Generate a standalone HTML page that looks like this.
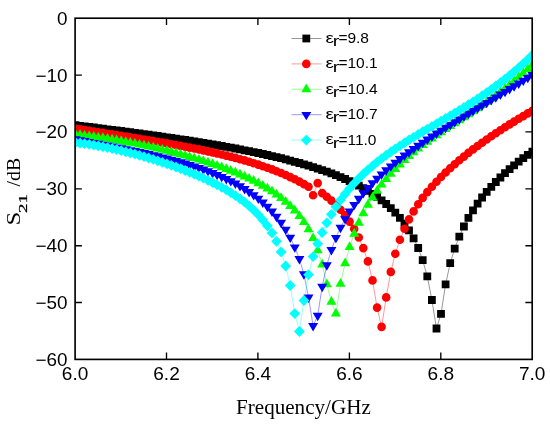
<!DOCTYPE html>
<html lang="en"><head><meta charset="utf-8"><title>S21 vs Frequency</title>
<style>
html,body{margin:0;padding:0;background:#fff;}
body{width:550px;height:425px;overflow:hidden;}
svg{display:block;}
</style></head>
<body>
<svg width="550" height="425" viewBox="0 0 550 425">
<rect width="550" height="425" fill="#fff"/>
<clipPath id="c"><rect x="75.1" y="18.2" width="457.1" height="341.2"/></clipPath>
<path d="M166.5 359.4v-6.8M166.5 18.2v6.8M257.9 359.4v-6.8M257.9 18.2v6.8M349.4 359.4v-6.8M349.4 18.2v6.8M440.8 359.4v-6.8M440.8 18.2v6.8M75.1 75.1h6.8M532.2 75.1h-6.8M75.1 131.9h6.8M532.2 131.9h-6.8M75.1 188.8h6.8M532.2 188.8h-6.8M75.1 245.7h6.8M532.2 245.7h-6.8M75.1 302.5h6.8M532.2 302.5h-6.8" stroke="#000" stroke-width="1.35" fill="none"/>
<g clip-path="url(#c)">
<path d="M75.5 125.2L80.1 125.8L84.6 126.4L89.2 126.9L93.8 127.5L98.3 128.1L102.9 128.7L107.5 129.3L112.1 129.8L116.6 130.4L121.2 131L125.8 131.6L130.3 132.2L134.9 132.9L139.5 133.5L144 134.1L148.6 134.7L153.2 135.4L157.7 136L162.3 136.7L166.9 137.3L171.4 138L176 138.7L180.6 139.3L185.2 140L189.7 140.7L194.3 141.5L198.9 142.2L203.4 142.9L208 143.7L212.6 144.4L217.1 145.2L221.7 146L226.3 146.8L230.8 147.7L235.4 148.5L240 149.4L244.6 150.3L249.1 151.2L253.7 152.1L258.3 153L262.8 154L267.4 155L272 156.1L276.5 157.1L281.1 158.2L285.7 159.4L290.2 160.6L294.8 161.8L299.4 163L303.9 164.3L308.5 165.7L313.1 167.1L317.7 168.6L322.2 170.1L326.8 171.7L331.4 173.4L335.9 175.2L340.5 177.1L345.1 179L349.6 181.1L354.2 183.3L358.8 185.7L363.3 188.2L367.9 190.9L372.5 193.8L377.1 196.9L381.6 200.3L386.2 204L390.8 208.1L395.3 212.7L399.9 217.8L404.5 223.6L409 230.4L413.6 238.4L418.2 248L422.7 260.2L427.3 276.4L431.9 300L436.5 328.5L441 313.8L445.6 284.4L450.2 263.1L454.7 248.7L459.3 236.6L463.9 226.5L468.4 217.9L473 210.4L477.6 203.6L482.1 197.5L486.7 191.9L491.3 186.8L495.8 182L500.4 177.5L505 173.2L509.6 169.2L514.1 165.4L518.7 161.7L523.3 158.2L527.8 154.9L532.4 151.7" fill="none" stroke="#000000" stroke-width="0.55" stroke-opacity="0.75"/>
<path d="M71.6 121.3h7.8v7.8h-7.8zM76.2 121.9h7.8v7.8h-7.8zM80.7 122.5h7.8v7.8h-7.8zM85.3 123h7.8v7.8h-7.8zM89.9 123.6h7.8v7.8h-7.8zM94.4 124.2h7.8v7.8h-7.8zM99 124.8h7.8v7.8h-7.8zM103.6 125.4h7.8v7.8h-7.8zM108.2 125.9h7.8v7.8h-7.8zM112.7 126.5h7.8v7.8h-7.8zM117.3 127.1h7.8v7.8h-7.8zM121.9 127.7h7.8v7.8h-7.8zM126.4 128.3h7.8v7.8h-7.8zM131 129h7.8v7.8h-7.8zM135.6 129.6h7.8v7.8h-7.8zM140.1 130.2h7.8v7.8h-7.8zM144.7 130.8h7.8v7.8h-7.8zM149.3 131.5h7.8v7.8h-7.8zM153.8 132.1h7.8v7.8h-7.8zM158.4 132.8h7.8v7.8h-7.8zM163 133.4h7.8v7.8h-7.8zM167.5 134.1h7.8v7.8h-7.8zM172.1 134.8h7.8v7.8h-7.8zM176.7 135.4h7.8v7.8h-7.8zM181.3 136.1h7.8v7.8h-7.8zM185.8 136.8h7.8v7.8h-7.8zM190.4 137.6h7.8v7.8h-7.8zM195 138.3h7.8v7.8h-7.8zM199.5 139h7.8v7.8h-7.8zM204.1 139.8h7.8v7.8h-7.8zM208.7 140.5h7.8v7.8h-7.8zM213.2 141.3h7.8v7.8h-7.8zM217.8 142.1h7.8v7.8h-7.8zM222.4 142.9h7.8v7.8h-7.8zM226.9 143.8h7.8v7.8h-7.8zM231.5 144.6h7.8v7.8h-7.8zM236.1 145.5h7.8v7.8h-7.8zM240.7 146.4h7.8v7.8h-7.8zM245.2 147.3h7.8v7.8h-7.8zM249.8 148.2h7.8v7.8h-7.8zM254.4 149.1h7.8v7.8h-7.8zM258.9 150.1h7.8v7.8h-7.8zM263.5 151.1h7.8v7.8h-7.8zM268.1 152.2h7.8v7.8h-7.8zM272.6 153.2h7.8v7.8h-7.8zM277.2 154.3h7.8v7.8h-7.8zM281.8 155.5h7.8v7.8h-7.8zM286.3 156.7h7.8v7.8h-7.8zM290.9 157.9h7.8v7.8h-7.8zM295.5 159.1h7.8v7.8h-7.8zM300.1 160.4h7.8v7.8h-7.8zM304.6 161.8h7.8v7.8h-7.8zM309.2 163.2h7.8v7.8h-7.8zM313.8 164.7h7.8v7.8h-7.8zM318.3 166.2h7.8v7.8h-7.8zM322.9 167.8h7.8v7.8h-7.8zM327.5 169.5h7.8v7.8h-7.8zM332 171.3h7.8v7.8h-7.8zM336.6 173.2h7.8v7.8h-7.8zM341.2 175.1h7.8v7.8h-7.8zM345.7 177.2h7.8v7.8h-7.8zM350.3 179.4h7.8v7.8h-7.8zM354.9 181.8h7.8v7.8h-7.8zM359.4 184.3h7.8v7.8h-7.8zM364 187h7.8v7.8h-7.8zM368.6 189.9h7.8v7.8h-7.8zM373.2 193h7.8v7.8h-7.8zM377.7 196.4h7.8v7.8h-7.8zM382.3 200.1h7.8v7.8h-7.8zM386.9 204.2h7.8v7.8h-7.8zM391.4 208.8h7.8v7.8h-7.8zM396 213.9h7.8v7.8h-7.8zM400.6 219.7h7.8v7.8h-7.8zM405.1 226.5h7.8v7.8h-7.8zM409.7 234.5h7.8v7.8h-7.8zM414.3 244.1h7.8v7.8h-7.8zM418.8 256.3h7.8v7.8h-7.8zM423.4 272.5h7.8v7.8h-7.8zM428 296.1h7.8v7.8h-7.8zM432.6 324.6h7.8v7.8h-7.8zM437.1 309.9h7.8v7.8h-7.8zM441.7 280.5h7.8v7.8h-7.8zM446.3 259.2h7.8v7.8h-7.8zM450.8 244.8h7.8v7.8h-7.8zM455.4 232.7h7.8v7.8h-7.8zM460 222.6h7.8v7.8h-7.8zM464.5 214h7.8v7.8h-7.8zM469.1 206.5h7.8v7.8h-7.8zM473.7 199.7h7.8v7.8h-7.8zM478.2 193.6h7.8v7.8h-7.8zM482.8 188h7.8v7.8h-7.8zM487.4 182.9h7.8v7.8h-7.8zM491.9 178.1h7.8v7.8h-7.8zM496.5 173.6h7.8v7.8h-7.8zM501.1 169.3h7.8v7.8h-7.8zM505.7 165.3h7.8v7.8h-7.8zM510.2 161.5h7.8v7.8h-7.8zM514.8 157.8h7.8v7.8h-7.8zM519.4 154.3h7.8v7.8h-7.8zM523.9 151h7.8v7.8h-7.8zM528.5 147.8h7.8v7.8h-7.8z" fill="#000000"/>
<path d="M75.5 128.6L80.1 129.3L84.6 130L89.2 130.8L93.8 131.5L98.3 132.2L102.9 132.9L107.5 133.7L112.1 134.4L116.6 135.1L121.2 135.8L125.8 136.5L130.3 137.3L134.9 138L139.5 138.7L144 139.5L148.6 140.2L153.2 141L157.7 141.8L162.3 142.6L166.9 143.4L171.4 144.2L176 145L180.6 145.9L185.2 146.7L189.7 147.6L194.3 148.5L198.9 149.4L203.4 150.4L208 151.4L212.6 152.4L217.1 153.4L221.7 154.5L226.3 155.6L230.8 156.7L235.4 157.9L240 159.2L244.6 160.4L249.1 161.8L253.7 163.2L258.3 164.6L262.8 166.2L267.4 167.8L272 169.4L276.5 171.2L281.1 173L285.7 175L290.2 177.1L294.8 179.3L299.4 181.6L303.9 184.1L308.5 186.8L313.1 195.3L317.7 183.1L322.2 193.1L326.8 196.7L331.4 200.6L335.9 205L340.5 209.8L345.1 215.3L349.6 221.6L354.2 228.8L358.8 237.5L363.3 248.1L367.9 261.4L372.5 280.4L377.1 307.6L381.6 326.9L386.2 297.4L390.8 271.9L395.3 253.7L399.9 239.7L404.5 228.7L409 219.4L413.6 211.4L418.2 204.3L422.7 197.9L427.3 192.1L431.9 186.7L436.5 181.7L441 177L445.6 172.5L450.2 168.2L454.7 164.2L459.3 160.3L463.9 156.6L468.4 152.9L473 149.4L477.6 146L482.1 142.7L486.7 139.5L491.3 136.3L495.8 133.3L500.4 130.3L505 127.3L509.6 124.4L514.1 121.6L518.7 118.8L523.3 116.1L527.8 113.4L532.4 110.7" fill="none" stroke="#ff0000" stroke-width="0.55" stroke-opacity="0.75"/>
<path d="M71.2 128.6a4.3 4.3 0 1 0 8.6 0a4.3 4.3 0 1 0 -8.6 0zM75.8 129.3a4.3 4.3 0 1 0 8.6 0a4.3 4.3 0 1 0 -8.6 0zM80.3 130a4.3 4.3 0 1 0 8.6 0a4.3 4.3 0 1 0 -8.6 0zM84.9 130.8a4.3 4.3 0 1 0 8.6 0a4.3 4.3 0 1 0 -8.6 0zM89.5 131.5a4.3 4.3 0 1 0 8.6 0a4.3 4.3 0 1 0 -8.6 0zM94 132.2a4.3 4.3 0 1 0 8.6 0a4.3 4.3 0 1 0 -8.6 0zM98.6 132.9a4.3 4.3 0 1 0 8.6 0a4.3 4.3 0 1 0 -8.6 0zM103.2 133.7a4.3 4.3 0 1 0 8.6 0a4.3 4.3 0 1 0 -8.6 0zM107.8 134.4a4.3 4.3 0 1 0 8.6 0a4.3 4.3 0 1 0 -8.6 0zM112.3 135.1a4.3 4.3 0 1 0 8.6 0a4.3 4.3 0 1 0 -8.6 0zM116.9 135.8a4.3 4.3 0 1 0 8.6 0a4.3 4.3 0 1 0 -8.6 0zM121.5 136.5a4.3 4.3 0 1 0 8.6 0a4.3 4.3 0 1 0 -8.6 0zM126 137.3a4.3 4.3 0 1 0 8.6 0a4.3 4.3 0 1 0 -8.6 0zM130.6 138a4.3 4.3 0 1 0 8.6 0a4.3 4.3 0 1 0 -8.6 0zM135.2 138.7a4.3 4.3 0 1 0 8.6 0a4.3 4.3 0 1 0 -8.6 0zM139.7 139.5a4.3 4.3 0 1 0 8.6 0a4.3 4.3 0 1 0 -8.6 0zM144.3 140.2a4.3 4.3 0 1 0 8.6 0a4.3 4.3 0 1 0 -8.6 0zM148.9 141a4.3 4.3 0 1 0 8.6 0a4.3 4.3 0 1 0 -8.6 0zM153.4 141.8a4.3 4.3 0 1 0 8.6 0a4.3 4.3 0 1 0 -8.6 0zM158 142.6a4.3 4.3 0 1 0 8.6 0a4.3 4.3 0 1 0 -8.6 0zM162.6 143.4a4.3 4.3 0 1 0 8.6 0a4.3 4.3 0 1 0 -8.6 0zM167.1 144.2a4.3 4.3 0 1 0 8.6 0a4.3 4.3 0 1 0 -8.6 0zM171.7 145a4.3 4.3 0 1 0 8.6 0a4.3 4.3 0 1 0 -8.6 0zM176.3 145.9a4.3 4.3 0 1 0 8.6 0a4.3 4.3 0 1 0 -8.6 0zM180.9 146.7a4.3 4.3 0 1 0 8.6 0a4.3 4.3 0 1 0 -8.6 0zM185.4 147.6a4.3 4.3 0 1 0 8.6 0a4.3 4.3 0 1 0 -8.6 0zM190 148.5a4.3 4.3 0 1 0 8.6 0a4.3 4.3 0 1 0 -8.6 0zM194.6 149.4a4.3 4.3 0 1 0 8.6 0a4.3 4.3 0 1 0 -8.6 0zM199.1 150.4a4.3 4.3 0 1 0 8.6 0a4.3 4.3 0 1 0 -8.6 0zM203.7 151.4a4.3 4.3 0 1 0 8.6 0a4.3 4.3 0 1 0 -8.6 0zM208.3 152.4a4.3 4.3 0 1 0 8.6 0a4.3 4.3 0 1 0 -8.6 0zM212.8 153.4a4.3 4.3 0 1 0 8.6 0a4.3 4.3 0 1 0 -8.6 0zM217.4 154.5a4.3 4.3 0 1 0 8.6 0a4.3 4.3 0 1 0 -8.6 0zM222 155.6a4.3 4.3 0 1 0 8.6 0a4.3 4.3 0 1 0 -8.6 0zM226.5 156.7a4.3 4.3 0 1 0 8.6 0a4.3 4.3 0 1 0 -8.6 0zM231.1 157.9a4.3 4.3 0 1 0 8.6 0a4.3 4.3 0 1 0 -8.6 0zM235.7 159.2a4.3 4.3 0 1 0 8.6 0a4.3 4.3 0 1 0 -8.6 0zM240.3 160.4a4.3 4.3 0 1 0 8.6 0a4.3 4.3 0 1 0 -8.6 0zM244.8 161.8a4.3 4.3 0 1 0 8.6 0a4.3 4.3 0 1 0 -8.6 0zM249.4 163.2a4.3 4.3 0 1 0 8.6 0a4.3 4.3 0 1 0 -8.6 0zM254 164.6a4.3 4.3 0 1 0 8.6 0a4.3 4.3 0 1 0 -8.6 0zM258.5 166.2a4.3 4.3 0 1 0 8.6 0a4.3 4.3 0 1 0 -8.6 0zM263.1 167.8a4.3 4.3 0 1 0 8.6 0a4.3 4.3 0 1 0 -8.6 0zM267.7 169.4a4.3 4.3 0 1 0 8.6 0a4.3 4.3 0 1 0 -8.6 0zM272.2 171.2a4.3 4.3 0 1 0 8.6 0a4.3 4.3 0 1 0 -8.6 0zM276.8 173a4.3 4.3 0 1 0 8.6 0a4.3 4.3 0 1 0 -8.6 0zM281.4 175a4.3 4.3 0 1 0 8.6 0a4.3 4.3 0 1 0 -8.6 0zM285.9 177.1a4.3 4.3 0 1 0 8.6 0a4.3 4.3 0 1 0 -8.6 0zM290.5 179.3a4.3 4.3 0 1 0 8.6 0a4.3 4.3 0 1 0 -8.6 0zM295.1 181.6a4.3 4.3 0 1 0 8.6 0a4.3 4.3 0 1 0 -8.6 0zM299.6 184.1a4.3 4.3 0 1 0 8.6 0a4.3 4.3 0 1 0 -8.6 0zM304.2 186.8a4.3 4.3 0 1 0 8.6 0a4.3 4.3 0 1 0 -8.6 0zM308.8 195.3a4.3 4.3 0 1 0 8.6 0a4.3 4.3 0 1 0 -8.6 0zM313.4 183.1a4.3 4.3 0 1 0 8.6 0a4.3 4.3 0 1 0 -8.6 0zM317.9 193.1a4.3 4.3 0 1 0 8.6 0a4.3 4.3 0 1 0 -8.6 0zM322.5 196.7a4.3 4.3 0 1 0 8.6 0a4.3 4.3 0 1 0 -8.6 0zM327.1 200.6a4.3 4.3 0 1 0 8.6 0a4.3 4.3 0 1 0 -8.6 0zM331.6 205a4.3 4.3 0 1 0 8.6 0a4.3 4.3 0 1 0 -8.6 0zM336.2 209.8a4.3 4.3 0 1 0 8.6 0a4.3 4.3 0 1 0 -8.6 0zM340.8 215.3a4.3 4.3 0 1 0 8.6 0a4.3 4.3 0 1 0 -8.6 0zM345.3 221.6a4.3 4.3 0 1 0 8.6 0a4.3 4.3 0 1 0 -8.6 0zM349.9 228.8a4.3 4.3 0 1 0 8.6 0a4.3 4.3 0 1 0 -8.6 0zM354.5 237.5a4.3 4.3 0 1 0 8.6 0a4.3 4.3 0 1 0 -8.6 0zM359 248.1a4.3 4.3 0 1 0 8.6 0a4.3 4.3 0 1 0 -8.6 0zM363.6 261.4a4.3 4.3 0 1 0 8.6 0a4.3 4.3 0 1 0 -8.6 0zM368.2 280.4a4.3 4.3 0 1 0 8.6 0a4.3 4.3 0 1 0 -8.6 0zM372.8 307.6a4.3 4.3 0 1 0 8.6 0a4.3 4.3 0 1 0 -8.6 0zM377.3 326.9a4.3 4.3 0 1 0 8.6 0a4.3 4.3 0 1 0 -8.6 0zM381.9 297.4a4.3 4.3 0 1 0 8.6 0a4.3 4.3 0 1 0 -8.6 0zM386.5 271.9a4.3 4.3 0 1 0 8.6 0a4.3 4.3 0 1 0 -8.6 0zM391 253.7a4.3 4.3 0 1 0 8.6 0a4.3 4.3 0 1 0 -8.6 0zM395.6 239.7a4.3 4.3 0 1 0 8.6 0a4.3 4.3 0 1 0 -8.6 0zM400.2 228.7a4.3 4.3 0 1 0 8.6 0a4.3 4.3 0 1 0 -8.6 0zM404.7 219.4a4.3 4.3 0 1 0 8.6 0a4.3 4.3 0 1 0 -8.6 0zM409.3 211.4a4.3 4.3 0 1 0 8.6 0a4.3 4.3 0 1 0 -8.6 0zM413.9 204.3a4.3 4.3 0 1 0 8.6 0a4.3 4.3 0 1 0 -8.6 0zM418.4 197.9a4.3 4.3 0 1 0 8.6 0a4.3 4.3 0 1 0 -8.6 0zM423 192.1a4.3 4.3 0 1 0 8.6 0a4.3 4.3 0 1 0 -8.6 0zM427.6 186.7a4.3 4.3 0 1 0 8.6 0a4.3 4.3 0 1 0 -8.6 0zM432.2 181.7a4.3 4.3 0 1 0 8.6 0a4.3 4.3 0 1 0 -8.6 0zM436.7 177a4.3 4.3 0 1 0 8.6 0a4.3 4.3 0 1 0 -8.6 0zM441.3 172.5a4.3 4.3 0 1 0 8.6 0a4.3 4.3 0 1 0 -8.6 0zM445.9 168.2a4.3 4.3 0 1 0 8.6 0a4.3 4.3 0 1 0 -8.6 0zM450.4 164.2a4.3 4.3 0 1 0 8.6 0a4.3 4.3 0 1 0 -8.6 0zM455 160.3a4.3 4.3 0 1 0 8.6 0a4.3 4.3 0 1 0 -8.6 0zM459.6 156.6a4.3 4.3 0 1 0 8.6 0a4.3 4.3 0 1 0 -8.6 0zM464.1 152.9a4.3 4.3 0 1 0 8.6 0a4.3 4.3 0 1 0 -8.6 0zM468.7 149.4a4.3 4.3 0 1 0 8.6 0a4.3 4.3 0 1 0 -8.6 0zM473.3 146a4.3 4.3 0 1 0 8.6 0a4.3 4.3 0 1 0 -8.6 0zM477.8 142.7a4.3 4.3 0 1 0 8.6 0a4.3 4.3 0 1 0 -8.6 0zM482.4 139.5a4.3 4.3 0 1 0 8.6 0a4.3 4.3 0 1 0 -8.6 0zM487 136.3a4.3 4.3 0 1 0 8.6 0a4.3 4.3 0 1 0 -8.6 0zM491.5 133.3a4.3 4.3 0 1 0 8.6 0a4.3 4.3 0 1 0 -8.6 0zM496.1 130.3a4.3 4.3 0 1 0 8.6 0a4.3 4.3 0 1 0 -8.6 0zM500.7 127.3a4.3 4.3 0 1 0 8.6 0a4.3 4.3 0 1 0 -8.6 0zM505.3 124.4a4.3 4.3 0 1 0 8.6 0a4.3 4.3 0 1 0 -8.6 0zM509.8 121.6a4.3 4.3 0 1 0 8.6 0a4.3 4.3 0 1 0 -8.6 0zM514.4 118.8a4.3 4.3 0 1 0 8.6 0a4.3 4.3 0 1 0 -8.6 0zM519 116.1a4.3 4.3 0 1 0 8.6 0a4.3 4.3 0 1 0 -8.6 0zM523.5 113.4a4.3 4.3 0 1 0 8.6 0a4.3 4.3 0 1 0 -8.6 0zM528.1 110.7a4.3 4.3 0 1 0 8.6 0a4.3 4.3 0 1 0 -8.6 0z" fill="#ff0000"/>
<path d="M75.5 134.6L80.1 135.1L84.6 135.7L89.2 136.2L93.8 136.8L98.3 137.5L102.9 138.1L107.5 138.8L112.1 139.6L116.6 140.3L121.2 141.1L125.8 142L130.3 142.8L134.9 143.7L139.5 144.7L144 145.6L148.6 146.6L153.2 147.6L157.7 148.7L162.3 149.8L166.9 150.9L171.4 152.1L176 153.2L180.6 154.5L185.2 155.7L189.7 157L194.3 158.4L198.9 159.7L203.4 161.1L208 162.6L212.6 164.1L217.1 165.7L221.7 167.3L226.3 169L230.8 170.8L235.4 172.6L240 174.5L244.6 176.6L249.1 178.7L253.7 180.9L258.3 183.3L262.8 185.8L267.4 188.5L272 191.4L276.5 194.6L281.1 198L285.7 201.8L290.2 206L294.8 210.6L299.4 216L303.9 222.1L308.5 229.4L313.1 238.2L317.7 250.3L322.2 264.5L326.8 284.4L331.4 301.9L335.9 313.6L340.5 283.8L345.1 263.3L349.6 247L354.2 233.8L358.8 222.8L363.3 213.3L367.9 204.9L372.5 197.5L377.1 190.8L381.6 184.7L386.2 179L390.8 173.8L395.3 169L399.9 164.5L404.5 160.2L409 156.2L413.6 152.4L418.2 148.7L422.7 145.2L427.3 141.9L431.9 138.6L436.5 135.4L441 132.3L445.6 129.2L450.2 126.2L454.7 123.3L459.3 120.3L463.9 117.3L468.4 114.3L473 111.3L477.6 108.3L482.1 105.2L486.7 102L491.3 98.8L495.8 95.5L500.4 92.1L505 88.6L509.6 85L514.1 81.3L518.7 77.4L523.3 73.4L527.8 69.2L532.4 64.9" fill="none" stroke="#00ff00" stroke-width="0.55" stroke-opacity="0.75"/>
<path d="M75.5 128.8L80.5 137.5L70.5 137.5zM80.1 129.3L85.1 138L75.1 138zM84.6 129.9L89.6 138.6L79.6 138.6zM89.2 130.4L94.2 139.1L84.2 139.1zM93.8 131L98.8 139.7L88.8 139.7zM98.3 131.7L103.3 140.4L93.3 140.4zM102.9 132.3L107.9 141L97.9 141zM107.5 133L112.5 141.7L102.5 141.7zM112.1 133.8L117.1 142.5L107.1 142.5zM116.6 134.5L121.6 143.2L111.6 143.2zM121.2 135.3L126.2 144L116.2 144zM125.8 136.2L130.8 144.9L120.8 144.9zM130.3 137L135.3 145.7L125.3 145.7zM134.9 137.9L139.9 146.6L129.9 146.6zM139.5 138.9L144.5 147.6L134.5 147.6zM144 139.8L149 148.5L139 148.5zM148.6 140.8L153.6 149.5L143.6 149.5zM153.2 141.8L158.2 150.5L148.2 150.5zM157.7 142.9L162.7 151.6L152.7 151.6zM162.3 144L167.3 152.7L157.3 152.7zM166.9 145.1L171.9 153.8L161.9 153.8zM171.4 146.3L176.4 155L166.4 155zM176 147.4L181 156.1L171 156.1zM180.6 148.7L185.6 157.4L175.6 157.4zM185.2 149.9L190.2 158.6L180.2 158.6zM189.7 151.2L194.7 159.9L184.7 159.9zM194.3 152.6L199.3 161.3L189.3 161.3zM198.9 153.9L203.9 162.6L193.9 162.6zM203.4 155.3L208.4 164L198.4 164zM208 156.8L213 165.5L203 165.5zM212.6 158.3L217.6 167L207.6 167zM217.1 159.9L222.1 168.6L212.1 168.6zM221.7 161.5L226.7 170.2L216.7 170.2zM226.3 163.2L231.3 171.9L221.3 171.9zM230.8 165L235.8 173.7L225.8 173.7zM235.4 166.8L240.4 175.5L230.4 175.5zM240 168.7L245 177.4L235 177.4zM244.6 170.8L249.6 179.5L239.6 179.5zM249.1 172.9L254.1 181.6L244.1 181.6zM253.7 175.1L258.7 183.8L248.7 183.8zM258.3 177.5L263.3 186.2L253.3 186.2zM262.8 180L267.8 188.7L257.8 188.7zM267.4 182.7L272.4 191.4L262.4 191.4zM272 185.6L277 194.3L267 194.3zM276.5 188.8L281.5 197.5L271.5 197.5zM281.1 192.2L286.1 200.9L276.1 200.9zM285.7 196L290.7 204.7L280.7 204.7zM290.2 200.2L295.2 208.9L285.2 208.9zM294.8 204.8L299.8 213.5L289.8 213.5zM299.4 210.2L304.4 218.9L294.4 218.9zM303.9 216.3L308.9 225L298.9 225zM308.5 223.6L313.5 232.3L303.5 232.3zM313.1 232.4L318.1 241.1L308.1 241.1zM317.7 244.5L322.7 253.2L312.7 253.2zM322.2 258.7L327.2 267.4L317.2 267.4zM326.8 278.6L331.8 287.3L321.8 287.3zM331.4 296.1L336.4 304.8L326.4 304.8zM335.9 307.8L340.9 316.5L330.9 316.5zM340.5 278L345.5 286.7L335.5 286.7zM345.1 257.5L350.1 266.2L340.1 266.2zM349.6 241.2L354.6 249.9L344.6 249.9zM354.2 228L359.2 236.7L349.2 236.7zM358.8 217L363.8 225.7L353.8 225.7zM363.3 207.5L368.3 216.2L358.3 216.2zM367.9 199.1L372.9 207.8L362.9 207.8zM372.5 191.7L377.5 200.4L367.5 200.4zM377.1 185L382.1 193.7L372.1 193.7zM381.6 178.9L386.6 187.6L376.6 187.6zM386.2 173.2L391.2 181.9L381.2 181.9zM390.8 168L395.8 176.7L385.8 176.7zM395.3 163.2L400.3 171.9L390.3 171.9zM399.9 158.7L404.9 167.4L394.9 167.4zM404.5 154.4L409.5 163.1L399.5 163.1zM409 150.4L414 159.1L404 159.1zM413.6 146.6L418.6 155.3L408.6 155.3zM418.2 142.9L423.2 151.6L413.2 151.6zM422.7 139.4L427.7 148.1L417.7 148.1zM427.3 136.1L432.3 144.8L422.3 144.8zM431.9 132.8L436.9 141.5L426.9 141.5zM436.5 129.6L441.5 138.3L431.5 138.3zM441 126.5L446 135.2L436 135.2zM445.6 123.4L450.6 132.1L440.6 132.1zM450.2 120.4L455.2 129.1L445.2 129.1zM454.7 117.5L459.7 126.2L449.7 126.2zM459.3 114.5L464.3 123.2L454.3 123.2zM463.9 111.5L468.9 120.2L458.9 120.2zM468.4 108.5L473.4 117.2L463.4 117.2zM473 105.5L478 114.2L468 114.2zM477.6 102.5L482.6 111.2L472.6 111.2zM482.1 99.4L487.1 108.1L477.1 108.1zM486.7 96.2L491.7 104.9L481.7 104.9zM491.3 93L496.3 101.7L486.3 101.7zM495.8 89.7L500.8 98.4L490.8 98.4zM500.4 86.3L505.4 95L495.4 95zM505 82.8L510 91.5L500 91.5zM509.6 79.2L514.6 87.9L504.6 87.9zM514.1 75.5L519.1 84.2L509.1 84.2zM518.7 71.6L523.7 80.3L513.7 80.3zM523.3 67.6L528.3 76.3L518.3 76.3zM527.8 63.4L532.8 72.1L522.8 72.1zM532.4 59.1L537.4 67.8L527.4 67.8z" fill="#00ff00"/>
<path d="M75.5 139.1L80.1 140L84.6 140.9L89.2 141.8L93.8 142.7L98.3 143.6L102.9 144.5L107.5 145.4L112.1 146.3L116.6 147.2L121.2 148.1L125.8 149L130.3 150L134.9 150.9L139.5 151.9L144 152.9L148.6 153.9L153.2 155L157.7 156.1L162.3 157.2L166.9 158.3L171.4 159.5L176 160.7L180.6 162L185.2 163.3L189.7 164.7L194.3 166.2L198.9 167.7L203.4 169.3L208 171L212.6 172.8L217.1 174.7L221.7 176.7L226.3 178.8L230.8 181L235.4 183.4L240 186L244.6 188.8L249.1 191.8L253.7 195L258.3 198.5L262.8 202.4L267.4 206.6L272 211.3L276.5 216.6L281.1 222.6L285.7 229.5L290.2 237.5L294.8 247.2L299.4 258.8L303.9 274.1L308.5 297.4L313.1 325.8L317.7 315.6L322.2 286.6L326.8 265.1L331.4 249.9L335.9 237.7L340.5 227.6L345.1 219L349.6 211.4L354.2 204.7L358.8 198.6L363.3 193L367.9 187.8L372.5 183L377.1 178.5L381.6 174.2L386.2 170.1L390.8 166.2L395.3 162.5L399.9 158.9L404.5 155.4L409 152.1L413.6 148.8L418.2 145.6L422.7 142.5L427.3 139.4L431.9 136.4L436.5 133.4L441 130.5L445.6 127.6L450.2 124.8L454.7 122L459.3 119.2L463.9 116.4L468.4 113.6L473 110.9L477.6 108.1L482.1 105.4L486.7 102.7L491.3 99.9L495.8 97.2L500.4 94.4L505 91.7L509.6 88.9L514.1 86.1L518.7 83.3L523.3 80.5L527.8 77.7L532.4 74.9" fill="none" stroke="#0000ff" stroke-width="0.55" stroke-opacity="0.75"/>
<path d="M75.5 144.7L80.5 136.3L70.5 136.3zM80.1 145.6L85.1 137.2L75.1 137.2zM84.6 146.5L89.6 138.1L79.6 138.1zM89.2 147.4L94.2 139L84.2 139zM93.8 148.3L98.8 139.9L88.8 139.9zM98.3 149.2L103.3 140.8L93.3 140.8zM102.9 150.1L107.9 141.7L97.9 141.7zM107.5 151L112.5 142.6L102.5 142.6zM112.1 151.9L117.1 143.5L107.1 143.5zM116.6 152.8L121.6 144.4L111.6 144.4zM121.2 153.7L126.2 145.3L116.2 145.3zM125.8 154.6L130.8 146.2L120.8 146.2zM130.3 155.6L135.3 147.2L125.3 147.2zM134.9 156.5L139.9 148.1L129.9 148.1zM139.5 157.5L144.5 149.1L134.5 149.1zM144 158.5L149 150.1L139 150.1zM148.6 159.5L153.6 151.1L143.6 151.1zM153.2 160.6L158.2 152.2L148.2 152.2zM157.7 161.7L162.7 153.3L152.7 153.3zM162.3 162.8L167.3 154.4L157.3 154.4zM166.9 163.9L171.9 155.5L161.9 155.5zM171.4 165.1L176.4 156.7L166.4 156.7zM176 166.3L181 157.9L171 157.9zM180.6 167.6L185.6 159.2L175.6 159.2zM185.2 168.9L190.2 160.5L180.2 160.5zM189.7 170.3L194.7 161.9L184.7 161.9zM194.3 171.8L199.3 163.4L189.3 163.4zM198.9 173.3L203.9 164.9L193.9 164.9zM203.4 174.9L208.4 166.5L198.4 166.5zM208 176.6L213 168.2L203 168.2zM212.6 178.4L217.6 170L207.6 170zM217.1 180.3L222.1 171.9L212.1 171.9zM221.7 182.3L226.7 173.9L216.7 173.9zM226.3 184.4L231.3 176L221.3 176zM230.8 186.6L235.8 178.2L225.8 178.2zM235.4 189L240.4 180.6L230.4 180.6zM240 191.6L245 183.2L235 183.2zM244.6 194.4L249.6 186L239.6 186zM249.1 197.4L254.1 189L244.1 189zM253.7 200.6L258.7 192.2L248.7 192.2zM258.3 204.1L263.3 195.7L253.3 195.7zM262.8 208L267.8 199.6L257.8 199.6zM267.4 212.2L272.4 203.8L262.4 203.8zM272 216.9L277 208.5L267 208.5zM276.5 222.2L281.5 213.8L271.5 213.8zM281.1 228.2L286.1 219.8L276.1 219.8zM285.7 235.1L290.7 226.7L280.7 226.7zM290.2 243.1L295.2 234.7L285.2 234.7zM294.8 252.8L299.8 244.4L289.8 244.4zM299.4 264.4L304.4 256L294.4 256zM303.9 279.7L308.9 271.3L298.9 271.3zM308.5 303L313.5 294.6L303.5 294.6zM313.1 331.4L318.1 323L308.1 323zM317.7 321.2L322.7 312.8L312.7 312.8zM322.2 292.2L327.2 283.8L317.2 283.8zM326.8 270.7L331.8 262.3L321.8 262.3zM331.4 255.5L336.4 247.1L326.4 247.1zM335.9 243.3L340.9 234.9L330.9 234.9zM340.5 233.2L345.5 224.8L335.5 224.8zM345.1 224.6L350.1 216.2L340.1 216.2zM349.6 217L354.6 208.6L344.6 208.6zM354.2 210.3L359.2 201.9L349.2 201.9zM358.8 204.2L363.8 195.8L353.8 195.8zM363.3 198.6L368.3 190.2L358.3 190.2zM367.9 193.4L372.9 185L362.9 185zM372.5 188.6L377.5 180.2L367.5 180.2zM377.1 184.1L382.1 175.7L372.1 175.7zM381.6 179.8L386.6 171.4L376.6 171.4zM386.2 175.7L391.2 167.3L381.2 167.3zM390.8 171.8L395.8 163.4L385.8 163.4zM395.3 168.1L400.3 159.7L390.3 159.7zM399.9 164.5L404.9 156.1L394.9 156.1zM404.5 161L409.5 152.6L399.5 152.6zM409 157.7L414 149.3L404 149.3zM413.6 154.4L418.6 146L408.6 146zM418.2 151.2L423.2 142.8L413.2 142.8zM422.7 148.1L427.7 139.7L417.7 139.7zM427.3 145L432.3 136.6L422.3 136.6zM431.9 142L436.9 133.6L426.9 133.6zM436.5 139L441.5 130.6L431.5 130.6zM441 136.1L446 127.7L436 127.7zM445.6 133.2L450.6 124.8L440.6 124.8zM450.2 130.4L455.2 122L445.2 122zM454.7 127.6L459.7 119.2L449.7 119.2zM459.3 124.8L464.3 116.4L454.3 116.4zM463.9 122L468.9 113.6L458.9 113.6zM468.4 119.2L473.4 110.8L463.4 110.8zM473 116.5L478 108.1L468 108.1zM477.6 113.7L482.6 105.3L472.6 105.3zM482.1 111L487.1 102.6L477.1 102.6zM486.7 108.3L491.7 99.9L481.7 99.9zM491.3 105.5L496.3 97.1L486.3 97.1zM495.8 102.8L500.8 94.4L490.8 94.4zM500.4 100L505.4 91.6L495.4 91.6zM505 97.3L510 88.9L500 88.9zM509.6 94.5L514.6 86.1L504.6 86.1zM514.1 91.7L519.1 83.3L509.1 83.3zM518.7 88.9L523.7 80.5L513.7 80.5zM523.3 86.1L528.3 77.7L518.3 77.7zM527.8 83.3L532.8 74.9L522.8 74.9zM532.4 80.5L537.4 72.1L527.4 72.1z" fill="#0000ff"/>
<path d="M75.5 142.5L80.1 143.1L84.6 143.7L89.2 144.4L93.8 145.1L98.3 145.9L102.9 146.8L107.5 147.7L112.1 148.6L116.6 149.6L121.2 150.7L125.8 151.8L130.3 152.9L134.9 154.1L139.5 155.4L144 156.7L148.6 158L153.2 159.4L157.7 160.8L162.3 162.3L166.9 163.8L171.4 165.4L176 167L180.6 168.7L185.2 170.5L189.7 172.3L194.3 174.2L198.9 176.1L203.4 178.2L208 180.3L212.6 182.5L217.1 184.8L221.7 187.3L226.3 189.9L230.8 192.7L235.4 195.6L240 198.8L244.6 202.2L249.1 205.9L253.7 210.1L258.3 214.7L262.8 219.9L267.4 225.9L272 232.9L276.5 241.3L281.1 251.9L285.7 266L290.2 285.5L294.8 313.6L299.4 331.5L303.9 300.5L308.5 274.7L313.1 256.6L317.7 243.8L322.2 232.5L326.8 222.8L331.4 214.3L335.9 206.8L340.5 200.1L345.1 194L349.6 188.4L354.2 183.3L358.8 178.5L363.3 174L367.9 169.8L372.5 165.9L377.1 162.1L381.6 158.6L386.2 155.2L390.8 151.9L395.3 148.8L399.9 145.8L404.5 142.8L409 140L413.6 137.2L418.2 134.4L422.7 131.7L427.3 129.1L431.9 126.4L436.5 123.8L441 121.1L445.6 118.5L450.2 115.8L454.7 113.1L459.3 110.3L463.9 107.5L468.4 104.7L473 101.8L477.6 98.8L482.1 95.7L486.7 92.6L491.3 89.4L495.8 86L500.4 82.6L505 79.1L509.6 75.4L514.1 71.6L518.7 67.7L523.3 63.6L527.8 59.4L532.4 55" fill="none" stroke="#00ffff" stroke-width="0.55" stroke-opacity="0.75"/>
<path d="M75.5 137.1L80.9 142.5L75.5 147.9L70.1 142.5zM80.1 137.7L85.5 143.1L80.1 148.5L74.7 143.1zM84.6 138.3L90 143.7L84.6 149.1L79.2 143.7zM89.2 139L94.6 144.4L89.2 149.8L83.8 144.4zM93.8 139.7L99.2 145.1L93.8 150.5L88.4 145.1zM98.3 140.5L103.7 145.9L98.3 151.3L92.9 145.9zM102.9 141.4L108.3 146.8L102.9 152.2L97.5 146.8zM107.5 142.3L112.9 147.7L107.5 153.1L102.1 147.7zM112.1 143.2L117.5 148.6L112.1 154L106.7 148.6zM116.6 144.2L122 149.6L116.6 155L111.2 149.6zM121.2 145.3L126.6 150.7L121.2 156.1L115.8 150.7zM125.8 146.4L131.2 151.8L125.8 157.2L120.4 151.8zM130.3 147.5L135.7 152.9L130.3 158.3L124.9 152.9zM134.9 148.7L140.3 154.1L134.9 159.5L129.5 154.1zM139.5 150L144.9 155.4L139.5 160.8L134.1 155.4zM144 151.3L149.4 156.7L144 162.1L138.6 156.7zM148.6 152.6L154 158L148.6 163.4L143.2 158zM153.2 154L158.6 159.4L153.2 164.8L147.8 159.4zM157.7 155.4L163.1 160.8L157.7 166.2L152.3 160.8zM162.3 156.9L167.7 162.3L162.3 167.7L156.9 162.3zM166.9 158.4L172.3 163.8L166.9 169.2L161.5 163.8zM171.4 160L176.8 165.4L171.4 170.8L166 165.4zM176 161.6L181.4 167L176 172.4L170.6 167zM180.6 163.3L186 168.7L180.6 174.1L175.2 168.7zM185.2 165.1L190.6 170.5L185.2 175.9L179.8 170.5zM189.7 166.9L195.1 172.3L189.7 177.7L184.3 172.3zM194.3 168.8L199.7 174.2L194.3 179.6L188.9 174.2zM198.9 170.7L204.3 176.1L198.9 181.5L193.5 176.1zM203.4 172.8L208.8 178.2L203.4 183.6L198 178.2zM208 174.9L213.4 180.3L208 185.7L202.6 180.3zM212.6 177.1L218 182.5L212.6 187.9L207.2 182.5zM217.1 179.4L222.5 184.8L217.1 190.2L211.7 184.8zM221.7 181.9L227.1 187.3L221.7 192.7L216.3 187.3zM226.3 184.5L231.7 189.9L226.3 195.3L220.9 189.9zM230.8 187.3L236.2 192.7L230.8 198.1L225.4 192.7zM235.4 190.2L240.8 195.6L235.4 201L230 195.6zM240 193.4L245.4 198.8L240 204.2L234.6 198.8zM244.6 196.8L250 202.2L244.6 207.6L239.2 202.2zM249.1 200.5L254.5 205.9L249.1 211.3L243.7 205.9zM253.7 204.7L259.1 210.1L253.7 215.5L248.3 210.1zM258.3 209.3L263.7 214.7L258.3 220.1L252.9 214.7zM262.8 214.5L268.2 219.9L262.8 225.3L257.4 219.9zM267.4 220.5L272.8 225.9L267.4 231.3L262 225.9zM272 227.5L277.4 232.9L272 238.3L266.6 232.9zM276.5 235.9L281.9 241.3L276.5 246.7L271.1 241.3zM281.1 246.5L286.5 251.9L281.1 257.3L275.7 251.9zM285.7 260.6L291.1 266L285.7 271.4L280.3 266zM290.2 280.1L295.6 285.5L290.2 290.9L284.8 285.5zM294.8 308.2L300.2 313.6L294.8 319L289.4 313.6zM299.4 326.1L304.8 331.5L299.4 336.9L294 331.5zM303.9 295.1L309.3 300.5L303.9 305.9L298.6 300.5zM308.5 269.3L313.9 274.7L308.5 280.1L303.1 274.7zM313.1 251.2L318.5 256.6L313.1 261.9L307.7 256.6zM317.7 238.4L323.1 243.8L317.7 249.2L312.3 243.8zM322.2 227.1L327.6 232.5L322.2 237.9L316.8 232.5zM326.8 217.4L332.2 222.8L326.8 228.2L321.4 222.8zM331.4 208.9L336.8 214.3L331.4 219.7L326 214.3zM335.9 201.4L341.3 206.8L335.9 212.2L330.5 206.8zM340.5 194.7L345.9 200.1L340.5 205.5L335.1 200.1zM345.1 188.6L350.5 194L345.1 199.4L339.7 194zM349.6 183L355 188.4L349.6 193.8L344.2 188.4zM354.2 177.9L359.6 183.3L354.2 188.7L348.8 183.3zM358.8 173.1L364.2 178.5L358.8 183.9L353.4 178.5zM363.3 168.6L368.7 174L363.3 179.4L357.9 174zM367.9 164.4L373.3 169.8L367.9 175.2L362.5 169.8zM372.5 160.5L377.9 165.9L372.5 171.3L367.1 165.9zM377.1 156.7L382.5 162.1L377.1 167.5L371.7 162.1zM381.6 153.2L387 158.6L381.6 164L376.2 158.6zM386.2 149.8L391.6 155.2L386.2 160.6L380.8 155.2zM390.8 146.5L396.2 151.9L390.8 157.3L385.4 151.9zM395.3 143.4L400.7 148.8L395.3 154.2L389.9 148.8zM399.9 140.4L405.3 145.8L399.9 151.2L394.5 145.8zM404.5 137.4L409.9 142.8L404.5 148.2L399.1 142.8zM409 134.6L414.4 140L409 145.4L403.6 140zM413.6 131.8L419 137.2L413.6 142.6L408.2 137.2zM418.2 129L423.6 134.4L418.2 139.8L412.8 134.4zM422.7 126.3L428.1 131.7L422.7 137.1L417.3 131.7zM427.3 123.7L432.7 129.1L427.3 134.5L421.9 129.1zM431.9 121L437.3 126.4L431.9 131.8L426.5 126.4zM436.5 118.4L441.9 123.8L436.5 129.2L431.1 123.8zM441 115.7L446.4 121.1L441 126.5L435.6 121.1zM445.6 113.1L451 118.5L445.6 123.9L440.2 118.5zM450.2 110.4L455.6 115.8L450.2 121.2L444.8 115.8zM454.7 107.7L460.1 113.1L454.7 118.5L449.3 113.1zM459.3 104.9L464.7 110.3L459.3 115.7L453.9 110.3zM463.9 102.1L469.3 107.5L463.9 112.9L458.5 107.5zM468.4 99.3L473.8 104.7L468.4 110.1L463 104.7zM473 96.4L478.4 101.8L473 107.2L467.6 101.8zM477.6 93.4L483 98.8L477.6 104.2L472.2 98.8zM482.1 90.3L487.5 95.7L482.1 101.1L476.7 95.7zM486.7 87.2L492.1 92.6L486.7 98L481.3 92.6zM491.3 84L496.7 89.4L491.3 94.8L485.9 89.4zM495.8 80.6L501.2 86L495.8 91.4L490.4 86zM500.4 77.2L505.8 82.6L500.4 88L495 82.6zM505 73.7L510.4 79.1L505 84.5L499.6 79.1zM509.6 70L515 75.4L509.6 80.8L504.2 75.4zM514.1 66.2L519.5 71.6L514.1 77L508.7 71.6zM518.7 62.3L524.1 67.7L518.7 73.1L513.3 67.7zM523.3 58.2L528.7 63.6L523.3 69L517.9 63.6zM527.8 54L533.2 59.4L527.8 64.8L522.4 59.4zM532.4 49.6L537.8 55L532.4 60.4L527 55z" fill="#00ffff"/>
</g>
<rect x="75.1" y="18.2" width="457.1" height="341.2" fill="none" stroke="#000" stroke-width="1.65"/>
<g font-family="'Liberation Sans', Arial, sans-serif" font-size="18" fill="#000"><text transform="translate(75.1,380.3) scale(1.06,1)" text-anchor="middle">6.0</text><text transform="translate(166.5,380.3) scale(1.06,1)" text-anchor="middle">6.2</text><text transform="translate(257.9,380.3) scale(1.06,1)" text-anchor="middle">6.4</text><text transform="translate(349.4,380.3) scale(1.06,1)" text-anchor="middle">6.6</text><text transform="translate(440.8,380.3) scale(1.06,1)" text-anchor="middle">6.8</text><text transform="translate(532.2,380.3) scale(1.06,1)" text-anchor="middle">7.0</text><text transform="translate(67.6,24.6) scale(1.05,1)" text-anchor="end">0</text><text transform="translate(67.6,81.5) scale(1.05,1)" text-anchor="end">−10</text><text transform="translate(67.6,138.3) scale(1.05,1)" text-anchor="end">−20</text><text transform="translate(67.6,195.2) scale(1.05,1)" text-anchor="end">−30</text><text transform="translate(67.6,252.1) scale(1.05,1)" text-anchor="end">−40</text><text transform="translate(67.6,308.9) scale(1.05,1)" text-anchor="end">−50</text><text transform="translate(67.6,365.8) scale(1.05,1)" text-anchor="end">−60</text></g>
<g font-family="'Liberation Sans', Arial, sans-serif" font-size="14.7" fill="#000"><path d="M291.5 38.5H321.5" stroke="#000000" stroke-width="0.55" stroke-opacity="0.75"/><path d="M302.4 34.6h7.8v7.8h-7.8z" fill="#000000"/><text transform="translate(325.6,42.7) scale(1.28,1)">ε</text><text transform="translate(332.8,46.1) scale(1.35,1)">r</text><text x="338.4" y="43" font-size="15.5">=9.8</text><path d="M291.5 63.9H321.5" stroke="#ff0000" stroke-width="0.55" stroke-opacity="0.75"/><path d="M302 63.9a4.3 4.3 0 1 0 8.6 0a4.3 4.3 0 1 0 -8.6 0z" fill="#ff0000"/><text transform="translate(325.6,68.1) scale(1.28,1)">ε</text><text transform="translate(332.8,71.5) scale(1.35,1)">r</text><text x="338.4" y="68.4" font-size="15.5">=10.1</text><path d="M291.5 89.3H321.5" stroke="#00ff00" stroke-width="0.55" stroke-opacity="0.75"/><path d="M306.3 83.5L311.3 92.2L301.3 92.2z" fill="#00ff00"/><text transform="translate(325.6,93.5) scale(1.28,1)">ε</text><text transform="translate(332.8,96.9) scale(1.35,1)">r</text><text x="338.4" y="93.8" font-size="15.5">=10.4</text><path d="M291.5 114.7H321.5" stroke="#0000ff" stroke-width="0.55" stroke-opacity="0.75"/><path d="M306.3 120.3L311.3 111.9L301.3 111.9z" fill="#0000ff"/><text transform="translate(325.6,118.9) scale(1.28,1)">ε</text><text transform="translate(332.8,122.3) scale(1.35,1)">r</text><text x="338.4" y="119.2" font-size="15.5">=10.7</text><path d="M291.5 140.1H321.5" stroke="#00ffff" stroke-width="0.55" stroke-opacity="0.75"/><path d="M306.3 134.7L311.7 140.1L306.3 145.5L300.9 140.1z" fill="#00ffff"/><text transform="translate(325.6,144.3) scale(1.28,1)">ε</text><text transform="translate(332.8,147.7) scale(1.35,1)">r</text><text x="338.4" y="144.6" font-size="15.5">=11.0</text></g>
<text transform="translate(303.4,414) scale(1.03,1)" text-anchor="middle" font-family="'Liberation Serif', 'Times New Roman', serif" font-size="20.5" fill="#000">Frequency/GHz</text>
<g transform="translate(19.7,225.4) rotate(-90)" font-family="'Liberation Serif', 'Times New Roman', serif" font-size="18" fill="#000"><text transform="scale(1.3,1)" font-size="19">S</text><text transform="translate(12.5,6.8) scale(1.4,1)" font-size="13.5" stroke="#000" stroke-width="0.25">21</text><text transform="translate(39.0,0) scale(1.1,1)">/dB</text></g>
</svg>
</body></html>
